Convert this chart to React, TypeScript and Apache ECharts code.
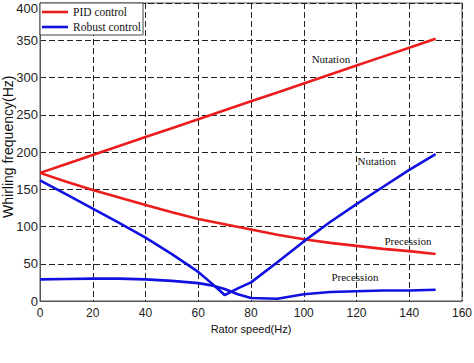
import React, { useEffect, useRef } from "react";
import * as echarts from "echarts";

const speeds = [0, 10, 20, 30, 40, 50, 60, 70, 80, 90, 100, 110, 120, 130, 140, 150];
const pidNutation = [172, 184, 196, 208, 220, 232, 244, 256, 268, 280, 292, 304, 316, 328, 340, 352];
const pidPrecession = [172, 160, 149, 139, 129, 119, 110, 103, 96, 89, 83, 78, 74, 70, 67, 63];

const robustSpeeds = [0, 10, 20, 30, 40, 50, 60, 65, 70, 75, 80, 90, 100, 110, 120, 130, 140, 150];
const robustNutation = [162, 143, 124, 105, 85, 63, 39, 24, 8, 17, 25, 52, 80, 106, 130, 153, 176, 197];
const robustPrecession = [29, 29.5, 30, 30, 29, 27, 24, 21, 16, 9, 4, 3, 9, 12, 13, 14, 14, 15];

const annoText = ["Nutation", "Nutation", "Precession", "Precession"];
const annoX = [110.3, 127.7, 139.5, 119.4];
const annoY = [324.5, 187.4, 81, 31.6];

const yAxisName = "Whirling frequency(Hz)";

const RED = "#ec1c1c";
const BLUE = "#1010e0";

function pairs(xs: number[], ys: number[]) {
  return xs.map((x, i) => [x, ys[i]]);
}

export default function App() {
  const ref = useRef<HTMLDivElement>(null);
  useEffect(() => {
    if (!ref.current) return;
    const chart = echarts.init(ref.current, undefined, { renderer: "svg" });
    const lineStyle = (c: string) => ({ color: c, width: 2.6 });
    const splitLine = { show: true, lineStyle: { color: "#222", type: [6, 3] as any, width: 1 } };
    chart.setOption({
      animation: false,
      backgroundColor: "#fff",
      grid: {
        left: 40,
        right: 12,
        top: 3,
        bottom: 62,
        containLabel: false,
        outerBoundsMode: "none",
        show: true,
        borderColor: "#555",
        borderWidth: 1,
      },
      legend: {
        data: ["PID control", "Robust control"],
        orient: "vertical",
        left: 40,
        top: 3,
        padding: [3, 2, 2, 2],
        itemGap: 3,
        itemWidth: 26,
        itemHeight: 14,
        icon: "path://M0,6 L26,6 L26,8.6 L0,8.6 Z",
        borderColor: "#444",
        borderWidth: 1,
        backgroundColor: "#fff",
        textStyle: { fontFamily: "Liberation Serif", fontSize: 11.5, color: "#111" },
      },
      xAxis: {
        type: "value",
        min: 0,
        max: 160,
        interval: 20,
        name: "Rator speed(Hz)",
        nameLocation: "middle",
        nameGap: 22,
        nameTextStyle: { fontSize: 11, fontFamily: "Liberation Sans", color: "#111" },
        axisLine: { show: true, lineStyle: { color: "#555" } },
        axisTick: { show: false },
        axisLabel: { fontSize: 12, fontFamily: "Liberation Sans", color: "#222", margin: 6 },
        splitLine,
      },
      yAxis: {
        type: "value",
        min: 0,
        max: 400,
        interval: 50,
        axisLine: { show: true, lineStyle: { color: "#555" } },
        axisTick: { show: false },
        axisLabel: {
          fontSize: 13,
          fontFamily: "Liberation Sans",
          color: "#222",
          margin: 2,
          formatter: (v: number) => (v === 400 ? `{t|${v}}` : `${v}`),
          rich: { t: { fontSize: 13, fontFamily: "Liberation Sans", color: "#222", padding: [10, 0, 0, 0] } },
        },
        splitLine,
      },
      series: [
        { name: "PID control", type: "line", symbol: "none", data: pairs(speeds, pidNutation), lineStyle: lineStyle(RED), itemStyle: { color: RED } },
        { name: "PID control", type: "line", symbol: "none", data: pairs(speeds, pidPrecession), lineStyle: lineStyle(RED), itemStyle: { color: RED } },
        { name: "Robust control", type: "line", symbol: "none", data: pairs(robustSpeeds, robustNutation), lineStyle: lineStyle(BLUE), itemStyle: { color: BLUE } },
        { name: "Robust control", type: "line", symbol: "none", data: pairs(robustSpeeds, robustPrecession), lineStyle: lineStyle(BLUE), itemStyle: { color: BLUE } },
      ],
    });
    const graphic: any[] = annoText.map((t, i) => {
      const p = chart.convertToPixel({ gridIndex: 0 }, [annoX[i], annoY[i]]) as number[];
      return {
        type: "text",
        x: p[0],
        y: p[1],
        style: {
          text: t,
          fontFamily: "Liberation Serif",
          fontSize: 11,
          fill: "#111",
          textAlign: "center",
          textVerticalAlign: "middle",
        },
        z: 10,
      };
    });
    const mid = chart.convertToPixel({ gridIndex: 0 }, [0, 207]) as number[];
    graphic.push({
      type: "text",
      x: 8,
      y: mid[1],
      rotation: Math.PI / 2,
      style: {
        text: yAxisName,
        fontFamily: "Liberation Sans",
        fontSize: 14,
        fill: "#111",
        textAlign: "center",
        textVerticalAlign: "middle",
      },
    });
    chart.setOption({ graphic });
    return () => chart.dispose();
  }, []);
  return <div ref={ref} style={{ width: 474, height: 363, position: "absolute", left: 0, top: 0 }} />;
}
